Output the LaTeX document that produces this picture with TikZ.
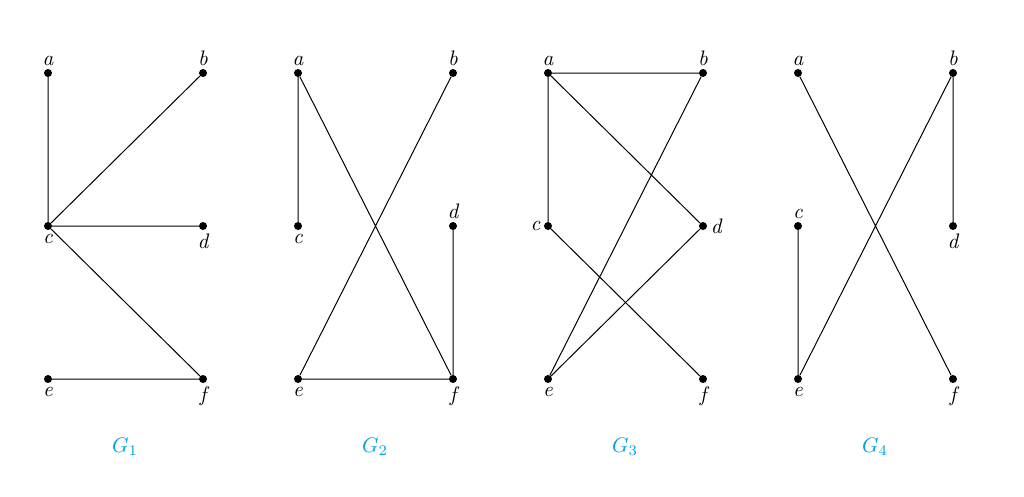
\documentclass[tikz,border=0pt]{standalone}
\definecolor{gcyan}{RGB}{0,160,225}
\begin{document}
\begin{tikzpicture}[x=1pt,y=-1pt,
  vtx/.style={circle,fill=black,inner sep=0pt,minimum size=8pt},
  lbl/.style={font=\itshape,scale=2.1,inner sep=0.5pt},
  ttl/.style={scale=2.1,text=gcyan},
  edge/.style={line width=1pt}]
\useasboundingbox (0,0) rectangle (1024,496);
\foreach \g/\ox in {1/0,2/250,3/500,4/750}{
  \node[vtx] (a\g) at (48+\ox,73) {};
  \node[vtx] (b\g) at (203+\ox,73) {};
  \node[vtx] (c\g) at (48+\ox,226) {};
  \node[vtx] (d\g) at (203+\ox,226) {};
  \node[vtx] (e\g) at (48+\ox,379) {};
  \node[vtx] (f\g) at (203+\ox,379) {};
  \node[lbl,above=3pt] at (a\g) {a};
  \node[lbl,above=3pt] at (b\g) {b};
  \node[lbl,below=3pt] at (e\g) {e};
  \node[lbl,below=3pt] at (f\g) {f};
  \node[ttl] (t\g) at (125+\ox,447) {$G_{\g}$};
}
\node[lbl,below=3pt] at (c1) {c};
\node[lbl,below=3pt] at (d1) {d};
\node[lbl,below=3pt] at (c2) {c};
\node[lbl,above=3pt] at (d2) {d};
\node[lbl,left=3pt] at (c3) {c};
\node[lbl,right=3pt] at (d3) {d};
\node[lbl,above=3pt] at (c4) {c};
\node[lbl,below=3pt] at (d4) {d};
\draw[edge] (a1)--(c1) (c1)--(b1) (c1)--(d1) (c1)--(f1) (e1)--(f1);
\draw[edge] (a2)--(c2) (a2)--(f2) (b2)--(e2) (d2)--(f2) (e2)--(f2);
\draw[edge] (a3)--(b3) (a3)--(c3) (a3)--(d3) (b3)--(e3) (c3)--(f3) (d3)--(e3);
\draw[edge] (a4)--(f4) (b4)--(d4) (b4)--(e4) (c4)--(e4);
\end{tikzpicture}
\end{document}
